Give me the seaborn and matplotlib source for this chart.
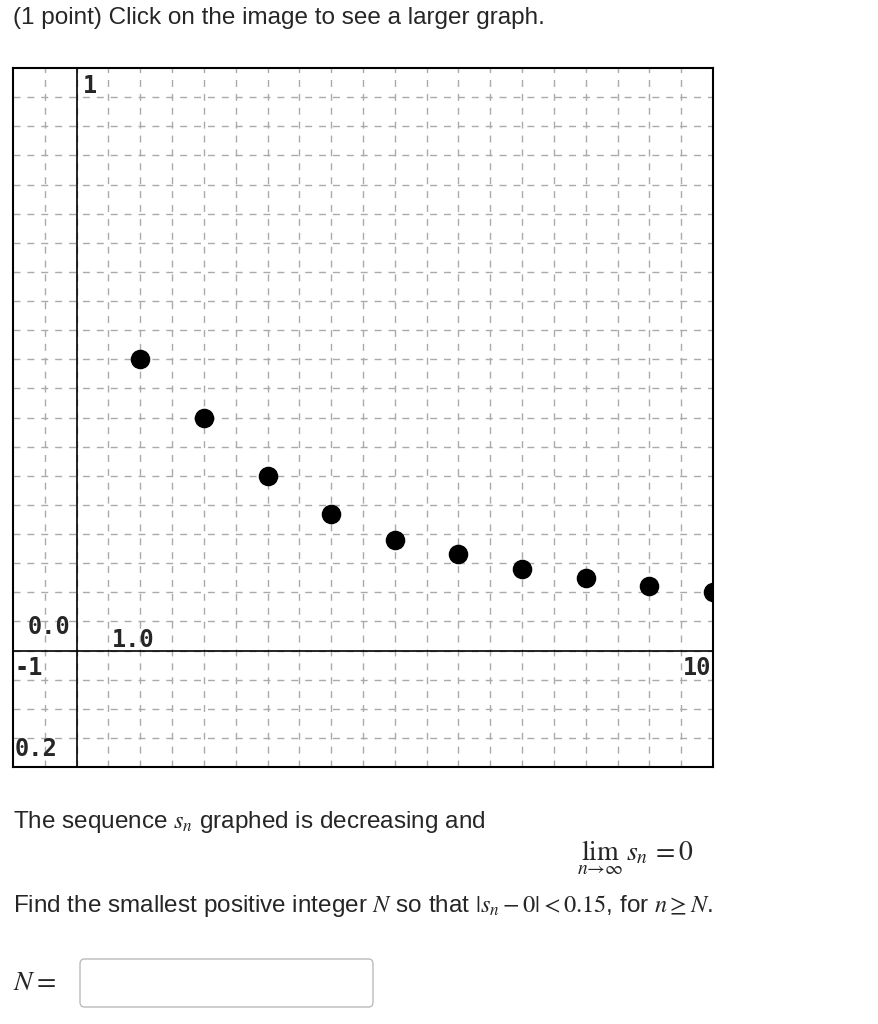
import matplotlib
matplotlib.use("Agg")
import matplotlib.pyplot as plt
import seaborn as sns
import numpy as np
from matplotlib.patches import FancyBboxPatch

n_values = [1, 2, 3, 4, 5, 6, 7, 8, 9, 10]
s_values = [0.50, 0.40, 0.30, 0.235, 0.19, 0.165, 0.14, 0.125, 0.11, 0.10]

sns.set_style("white")
plt.rcParams['font.family'] = ['Liberation Sans', 'DejaVu Sans']
plt.rcParams['mathtext.fontset'] = 'stix'

W, H = 879, 1024
fig = plt.figure(figsize=(W / 100, H / 100), dpi=100)
ax = fig.add_axes([13 / W, (H - 767) / H, 700 / W, 699 / H])

ax.set_xlim(-1, 10)
ax.set_ylim(-0.2, 1)
for x in np.arange(-0.5, 10, 0.5):
    ax.axvline(x, color='#aaaaaa', lw=1, ls=(0, (5, 5)), zorder=0)
for y in np.arange(-0.15, 1.0, 0.05):
    ax.axhline(y, color='#aaaaaa', lw=1, ls=(0, (5, 5)), zorder=0)
ax.axhline(0, color='black', lw=1.2, zorder=1)
ax.axvline(0, color='black', lw=1.2, zorder=1)

sns.scatterplot(x=n_values, y=s_values, ax=ax, color='black', s=170,
                edgecolor='black', zorder=3, clip_on=True)
ax.set_xticks([])
ax.set_yticks([])
for sp in ax.spines.values():
    sp.set_color('black')
    sp.set_linewidth(1.5)

mono = dict(family='DejaVu Sans Mono', fontweight='bold', fontsize=17)
ax.text(0.1, 0.99, '1', va='top', ha='left', **mono)
ax.text(-0.1, 0.02, '0.0', va='bottom', ha='right', **mono)
ax.text(0.55, -0.002, '1.0', va='bottom', ha='left', **mono)
ax.text(-0.98, -0.01, '-1', va='top', ha='left', **mono)
ax.text(9.98, -0.01, '10', va='top', ha='right', **mono)
ax.text(-0.98, -0.19, '0.2', va='bottom', ha='left', **mono)

fs = 17.5
fig.text(13 / W, 1 - 18 / H, '(1 point) Click on the image to see a larger graph.',
         fontsize=fs, va='center')
fig.text(13 / W, 1 - 822 / H, r'The sequence $s_n$ graphed is decreasing and',
         fontsize=fs, va='center')
fig.text(635 / W, 1 - 858 / H, r'$\lim_{n\to\infty}\, s_n = 0$', fontsize=20,
         va='center', ha='center')
fig.text(13 / W, 1 - 906 / H,
         r'Find the smallest positive integer $N$ so that $|s_n - 0| < 0.15$, for $n \geq N$.',
         fontsize=fs, va='center')
fig.text(13 / W, 1 - 983 / H, r'$N =$', fontsize=20, va='center')
fig.patches.append(FancyBboxPatch((80 / W, 1 - 1007 / H), 293 / W, 48 / H,
                                  boxstyle='round,pad=0,rounding_size=0.005',
                                  transform=fig.transFigure, fill=False,
                                  edgecolor='#bbbbbb', lw=1))

fig.savefig('out.png', dpi=100)
